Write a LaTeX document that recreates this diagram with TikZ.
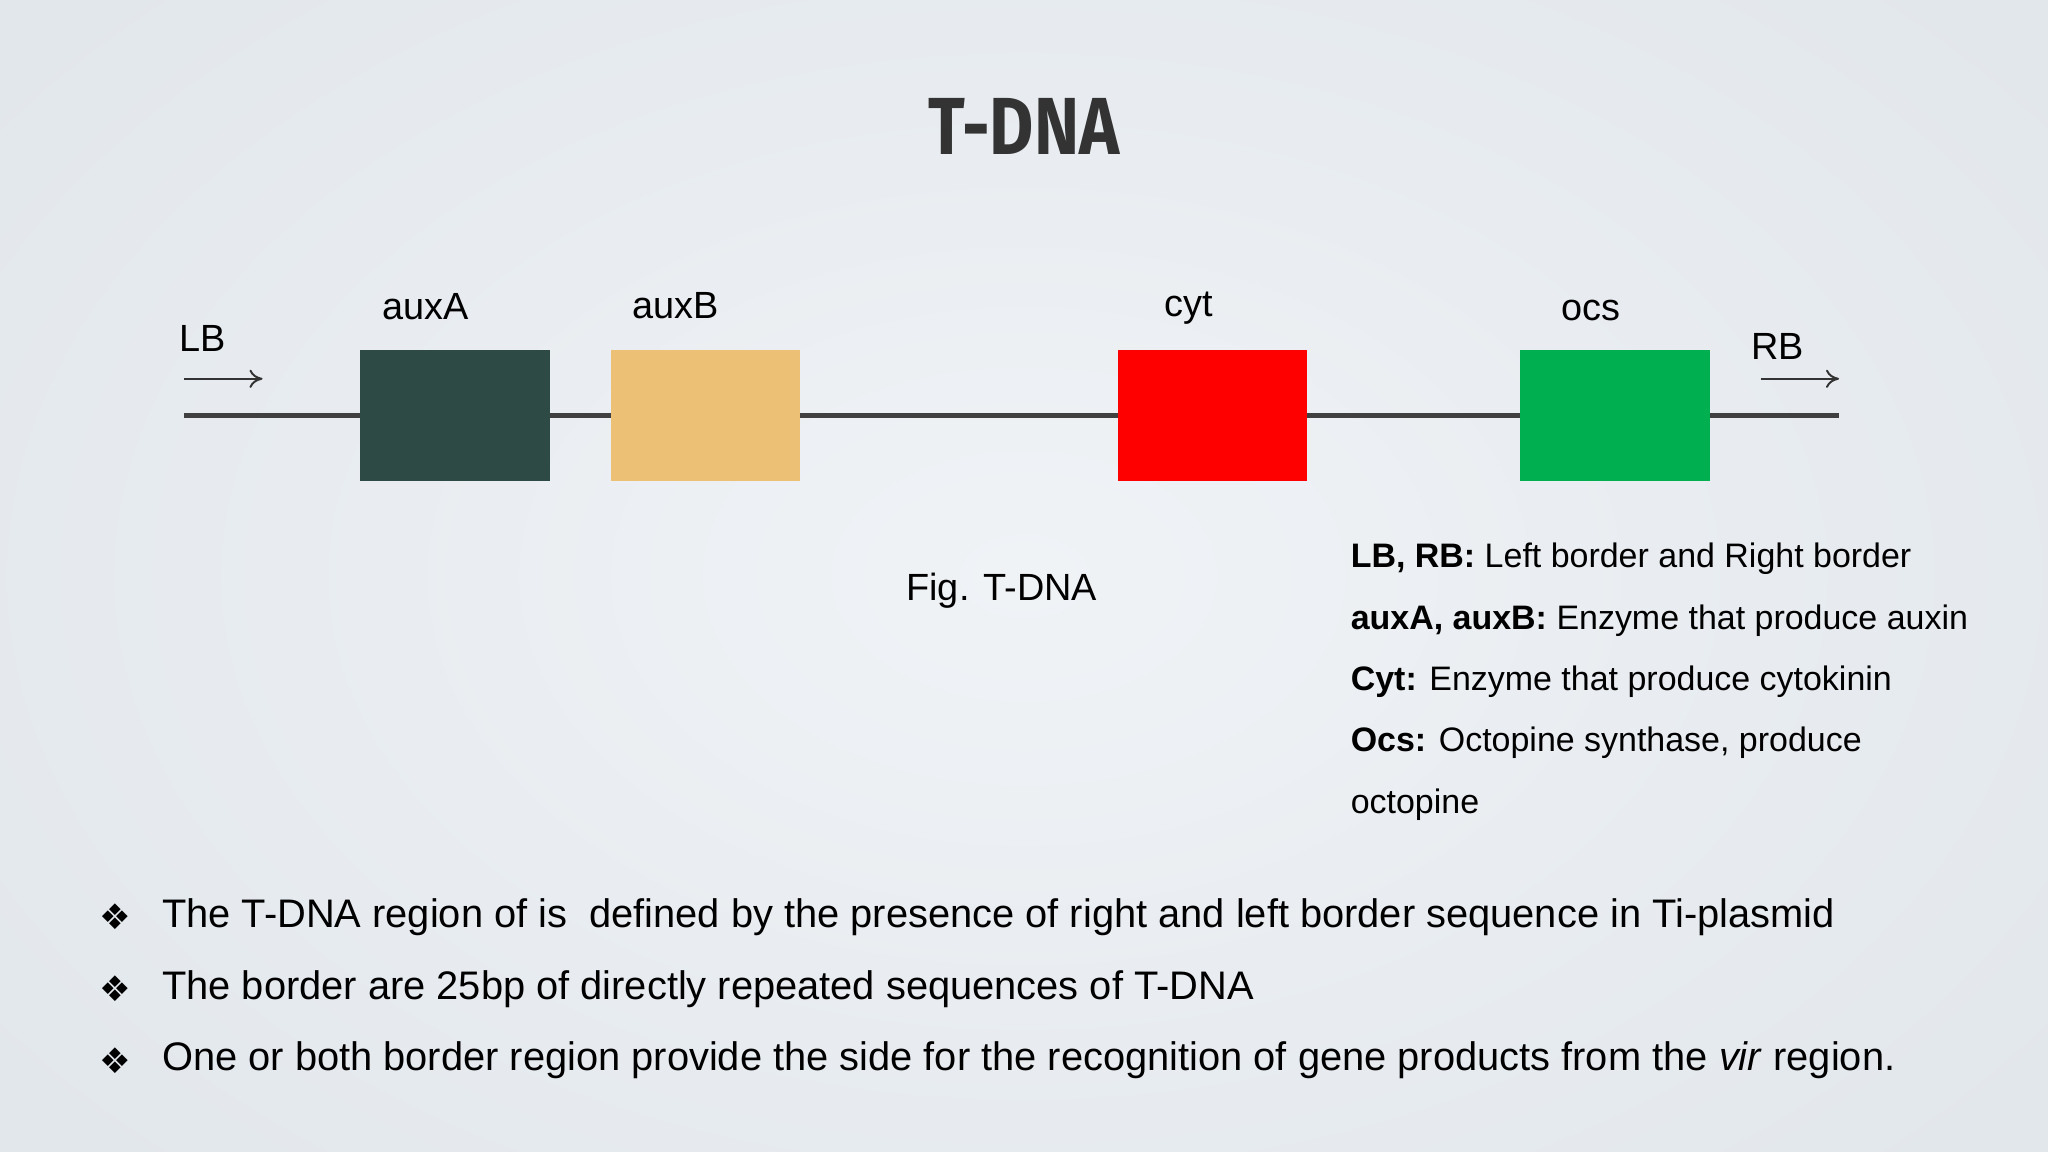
\documentclass[tikz,border=0pt]{standalone}
\usepackage{fontspec}
\usetikzlibrary{arrows.meta}
\setmainfont{Liberation Sans}
\newfontfamily\titlefont{Fira Sans}
\newfontfamily\symfont{DejaVu Sans}
\definecolor{bgin}{RGB}{240,243,246}
\definecolor{bgout}{RGB}{226,231,236}
\begin{document}
\begin{tikzpicture}[x=1pt,y=-1pt,
  gene/.style={minimum width=145pt,minimum height=100pt,inner sep=0pt,draw=none},
  lbl/.style={font=\fontsize{29}{34}\selectfont,inner sep=0pt},
  leg/.style={font=\fontsize{26}{30}\selectfont,anchor=west,inner sep=0pt},
  bul/.style={font=\fontsize{30.5}{36}\selectfont,anchor=west,inner sep=0pt},
  arr/.style={-{To[length=10pt,width=14pt]},line width=1.5pt,color=black!80}]
\useasboundingbox (0,0) rectangle (1568,882);
\shade[inner color=bgin, outer color=bgout] (-200,-200) rectangle (1768,1082);
\node[font=\titlefont\bfseries\fontsize{62}{70}\selectfont,text=black!80,inner sep=0pt] (title) at (784,97) {\scalebox{0.84}[1]{T-DNA}};
\coordinate (L) at (141,318);
\coordinate (R) at (1408,318);
\draw[line width=4pt,color=black!75] (L) -- (R);
\node[gene,fill={rgb,255:red,45;green,74;blue,69}] (auxA) at (348.5,318) {};
\node[gene,fill={rgb,255:red,236;green,193;blue,118}] (auxB) at (540,318) {};
\node[gene,fill=red] (cyt) at (928.5,318) {};
\node[gene,fill={rgb,255:red,0;green,176;blue,80}] (ocs) at (1236.5,318) {};
\node[lbl] (lbA) at (326,235) {auxA};
\node[lbl] (lbB) at (517,234) {auxB};
\node[lbl] (lbC) at (910,236) {cyt};
\node[lbl] (lbO) at (1218,238) {ocs};
\node[lbl] (LB) at (155,259) {LB};
\node[lbl] (RB) at (1361,265) {RB};
\coordinate (la1) at (141,290); \coordinate (la2) at (201,290);
\coordinate (ra1) at (1348,290); \coordinate (ra2) at (1408,290);
\draw[arr] (la1) -- (la2);
\draw[arr] (ra1) -- (ra2);
\node[lbl] (fig) at (767,452) {Fig. T-DNA};
\node[leg] (l1) at (1034,428) {\textbf{LB, RB:} Left border and Right border};
\node[leg] (l2) at (1034,475) {\textbf{auxA, auxB:} Enzyme that produce auxin};
\node[leg] (l3) at (1034,522) {\textbf{Cyt:} Enzyme that produce cytokinin};
\node[leg] (l4) at (1034,569) {\textbf{Ocs:} Octopine synthase, produce};
\node[leg] (l5) at (1034,616) {octopine};
\foreach \y/\t [count=\i] in {702/{The T-DNA region of is\ \ defined by the presence of right and left border sequence in Ti-plasmid},
  757/{The border are 25bp of directly repeated sequences of T-DNA},
  812/{One or both border region provide the side for the recognition of gene products from the \emph{vir} region.}}{
  \node[font=\symfont\fontsize{27}{30}\selectfont,inner sep=0pt] (s\i) at (88,\y) {❖};
  \node[bul] (b\i) at (124,\y) {\t};
}
\end{tikzpicture}
\end{document}
